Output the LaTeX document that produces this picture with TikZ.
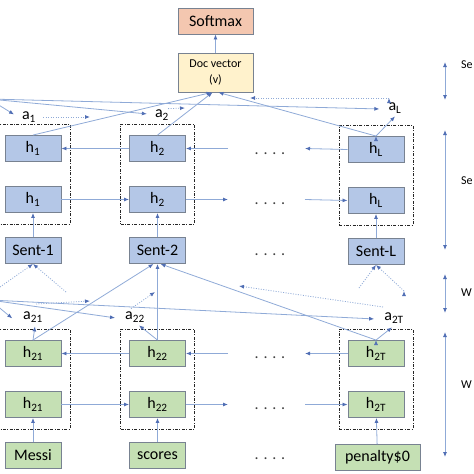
\documentclass[tikz,border=0pt]{standalone}
\usepackage{fontspec}
\setmainfont{Carlito}
\usepackage{xcolor}
\usetikzlibrary{arrows.meta, positioning, fit}

\definecolor{bleu}{RGB}{180,199,231}
\definecolor{vert}{RGB}{197,224,180}
\definecolor{saumon}{RGB}{244,199,176}
\definecolor{creme}{RGB}{255,242,204}
\definecolor{trait}{RGB}{143,170,215}
\definecolor{pointe}{RGB}{80,110,180}
\definecolor{bord}{RGB}{120,130,145}

\tikzset{
  boite/.style={draw=bord, line width=0.9pt, minimum width=56pt, minimum height=26pt,
    inner sep=0pt, font=\fontsize{16}{18}\selectfont},
  hs/.style={boite, fill=bleu},
  hw/.style={boite, fill=vert},
  cadre/.style={draw=black!85, line width=0.8pt,
    dash pattern=on 3pt off 1.5pt on 0.8pt off 1.5pt, inner xsep=8.5pt, inner ysep=11pt},
  lien/.style={draw=trait, line width=0.8pt, -{Latex[length=5pt,width=4pt,color=pointe]}},
  pointille/.style={lien, dash pattern=on 1pt off 1.5pt},
  niveau/.style={draw=trait, line width=0.8pt,
    {Latex[length=5pt,width=4pt,color=pointe]}-{Latex[length=5pt,width=4pt,color=pointe]}},
  poids/.style={font=\fontsize{16}{18}\selectfont, inner sep=1pt},
  etiq/.style={font=\fontsize{12}{14}\selectfont, anchor=west, inner sep=0pt},
  points/.style={font=\fontsize{16}{18}\selectfont, text=black!75, inner sep=0pt}
}

\begin{document}
\begin{tikzpicture}[x=1pt, y=-1pt, on grid, node distance=51pt]
    \useasboundingbox (0,0) rectangle (474,474);

    % Niveau document
    \node[boite, fill=saumon, minimum width=75pt] (soft) at (215.5,21) {Softmax};
    \node[boite, fill=creme, minimum width=75pt, minimum height=39pt, align=center,
      font=\fontsize{12}{16}\selectfont] (doc) at (215.5,72.5) {Doc vector\\(v)};

    % Niveau phrases
    \node[hs] (s1) at (33,250.5) {Sent-1};
    \node[hs] (s2) at (157.5,250.5) {Sent-2};
    \node[hs] (sL) at (376,251.5) {Sent-L};
    \node[hs, above=of s1] (h1b) {h\textsubscript{1}};
    \node[hs, above=of s2] (h2b) {h\textsubscript{2}};
    \node[hs, above=of sL] (hLb) {h\textsubscript{L}};
    \node[hs, above=of h1b] (h1t) {h\textsubscript{1}};
    \node[hs, above=of h2b] (h2t) {h\textsubscript{2}};
    \node[hs, above=of hLb] (hLt) {h\textsubscript{L}};
    \node[cadre, fit=(h1t)(h1b)] (c1) {};
    \node[cadre, fit=(h2t)(h2b)] (c2) {};
    \node[cadre, fit=(hLt)(hLb)] (cL) {};

    % Niveau mots
    \node[hw] (m1) at (33,455.5) {Messi};
    \node[hw] (m2) at (157.5,455.5) {scores};
    \node[hw, minimum width=85pt] (mT) at (377.5,457.5) {penalty\$0};
    \node[hw, above=of m1] (h21b) {h\textsubscript{21}};
    \node[hw, above=of m2] (h22b) {h\textsubscript{22}};
    \node[hw, above=53pt of mT, xshift=-1.5pt] (h2Tb) {h\textsubscript{2T}};
    \node[hw, above=of h21b] (h21t) {h\textsubscript{21}};
    \node[hw, above=of h22b] (h22t) {h\textsubscript{22}};
    \node[hw, above=of h2Tb] (h2Tt) {h\textsubscript{2T}};
    \node[cadre, fit=(h21t)(h21b)] (c21) {};
    \node[cadre, fit=(h22t)(h22b)] (c22) {};
    \node[cadre, fit=(h2Tt)(h2Tb)] (c2T) {};

    % Poids d'attention
    \node[poids] (a1) at (29,117) {a\textsubscript{1}};
    \node[poids] (a2) at (162,115) {a\textsubscript{2}};
    \node[poids] (aL) at (395,108) {a\textsubscript{L}};
    \node[poids] (a21) at (33,317) {a\textsubscript{21}};
    \node[poids] (a22) at (135,317) {a\textsubscript{22}};
    \node[poids] (a2T) at (394,318) {a\textsubscript{2T}};

    % Points de suspension
    \foreach \y in {154,204,255,358,409,459}
        \node[points] (p\y) at (270,\y) {. . . .};

    % Extremites libres
    \coordinate (us) at (-11,99);
    \coordinate (uw) at (-10,300);
    \coordinate (rt1) at (228,148.5);
    \coordinate (lt1) at (305,148.5);
    \coordinate (rb1) at (228,199.5);
    \coordinate (lb1) at (305,199.5);
    \coordinate (rt2) at (228,353.5);
    \coordinate (lt2) at (305,353.5);
    \coordinate (rb2) at (228,404.5);
    \coordinate (lb2) at (305,404.5);
    \coordinate (d1a) at (43,117);
    \coordinate (d1) at (90,117);
    \coordinate (d2) at (185,108);
    \coordinate (dLa) at (389,98);
    \coordinate (dL) at (250,98);
    \coordinate (d21a) at (36,304);
    \coordinate (d21) at (90,301);
    \coordinate (d22) at (155,292);
    \coordinate (d2Ta) at (383,307);
    \coordinate (d2T) at (239,286);
    \coordinate (q1a) at (0,287);
    \coordinate (q1b) at (66,292);
    \coordinate (qLa) at (359,288);
    \coordinate (qLb) at (404,291);

    % Encodeur de phrases
    \path[lien]
    (doc) edge (soft)
    (h2t.west) edge (h1t.east)
    (rt1) edge (h2t.east)
    (hLt.west) edge (lt1)
    (h1b.east) edge (h2b.west)
    (h2b.east) edge (rb1)
    (lb1) edge (hLb.west)
    (s1) edge (h1b)
    (s2) edge (h2b)
    (sL) edge (hLb)
    (h1t.north) edge ([xshift=-4pt]doc.south)
    (h2t.north) edge ([xshift=-3pt]doc.south)
    (hLt.north) edge ([xshift=3pt]doc.south)
    (hLt.north) edge ([yshift=-2pt]aL.south);

    % Attention sur les phrases
    \path[lien, shorten >=1pt]
    (us) edge ([xshift=-6pt, yshift=2pt]a1.west)
    (us) edge ([xshift=-6pt, yshift=1pt]a2.west)
    (us) edge ([xshift=-7pt, yshift=-1pt]aL.west);
    \path[pointille]
    (d1a) edge (d1)
    ([xshift=-2pt]a2.north east) edge (d2)
    (dLa) edge (dL);

    % Encodeur de mots
    \path[lien]
    (h22t.west) edge (h21t.east)
    (rt2) edge (h22t.east)
    (h2Tt.west) edge (lt2)
    (h21b.east) edge (h22b.west)
    (h22b.east) edge (rb2)
    (lb2) edge (h2Tb.west)
    (m1) edge (h21b)
    (m2) edge (h22b)
    (mT) edge (h2Tb)
    (h21t.north) edge ([xshift=-4pt]s2.south)
    (h22t.north) edge ([xshift=0pt]s2.south)
    (h2Tt.north) edge ([xshift=3pt]s2.south)
    (h21t.north) edge ([xshift=2pt, yshift=-3pt]a21.south)
    (h22t.north) edge ([xshift=4pt, yshift=-2pt]a22.south)
    (h2Tt.north) edge ([xshift=-2pt, yshift=-3pt]a2T.south);

    % Attention sur les mots
    \path[lien, shorten >=1pt]
    (uw) edge ([xshift=-9pt, yshift=-2pt]a21.west)
    (uw) edge ([xshift=-8pt, yshift=-1pt]a22.west)
    (uw) edge ([xshift=-8pt, yshift=-1pt]a2T.west);
    \path[pointille]
    (d21a) edge (d21)
    ([xshift=-4pt, yshift=2pt]a22.north) edge (d22)
    (d2Ta) edge (d2T)
    (q1a) edge (s1.south)
    (q1b) edge (s1.south)
    (qLa) edge (sL.south)
    (qLb) edge (sL.south);

    % Niveaux
    \coordinate (n1h) at (445,62);
    \coordinate (n1b) at (445,100);
    \coordinate (n2h) at (445,130);
    \coordinate (n2b) at (445,250);
    \coordinate (n3h) at (445,274);
    \coordinate (n3b) at (445,313);
    \coordinate (n4h) at (445,332);
    \coordinate (n4b) at (445,457);
    \draw[niveau] (n1h) -- (n1b);
    \draw[niveau] (n2h) -- (n2b);
    \draw[niveau] (n3h) -- (n3b);
    \draw[niveau] (n4h) -- (n4b);
    \node[etiq] (e1) at (461,65) {Se};
    \node[etiq] (e2) at (461,181) {Se};
    \node[etiq] (e3) at (461,293) {W};
    \node[etiq] (e4) at (461,385) {W};

\end{tikzpicture}
\end{document}
